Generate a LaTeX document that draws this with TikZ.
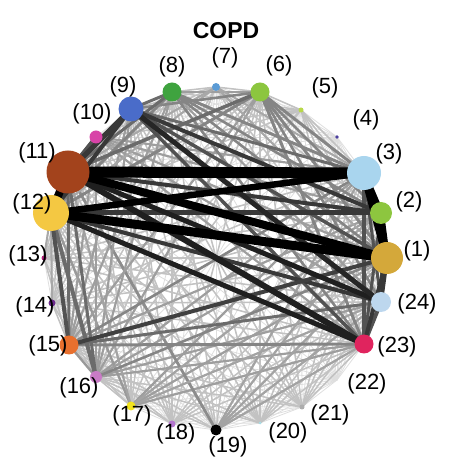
\documentclass[tikz,border=0pt]{standalone}
\usepackage{fontspec}
\setmainfont{Liberation Sans}
\pgfdeclarelayer{bg}
\pgfsetlayers{bg,main}
\definecolor{c1}{HTML}{D4A83A}
\definecolor{c2}{HTML}{8DC63F}
\definecolor{c3}{HTML}{A9D5EE}
\definecolor{c4}{HTML}{4B3F9E}
\definecolor{c5}{HTML}{B8D84A}
\definecolor{c6}{HTML}{8CC63F}
\definecolor{c7}{HTML}{5B9BD5}
\definecolor{c8}{HTML}{3FA33F}
\definecolor{c9}{HTML}{4A6CC9}
\definecolor{c10}{HTML}{D843A8}
\definecolor{c11}{HTML}{A3431C}
\definecolor{c12}{HTML}{F4C842}
\definecolor{c13}{HTML}{B0237A}
\definecolor{c14}{HTML}{6B2A8C}
\definecolor{c15}{HTML}{E8702E}
\definecolor{c16}{HTML}{C97BC6}
\definecolor{c17}{HTML}{F2E41E}
\definecolor{c18}{HTML}{B476CF}
\definecolor{c19}{HTML}{000000}
\definecolor{c20}{HTML}{A8DCE6}
\definecolor{c21}{HTML}{ADADAD}
\definecolor{c22}{HTML}{DDDDDD}
\definecolor{c23}{HTML}{E0245E}
\definecolor{c24}{HTML}{BDD7EE}
\begin{document}
\begin{tikzpicture}[x=1pt,y=1pt,
  vert/.style={circle,inner sep=0pt,draw=none},
  lab/.style={font=\fontsize{22}{24}\selectfont,inner sep=0pt},
  ttl/.style={font=\fontsize{23}{25}\selectfont\bfseries,inner sep=0pt},
  faint/.style={line width=0.8pt,color=black!13},
  light/.style={line width=1.5pt,color=black!24}]
\useasboundingbox (0,0) rectangle (474,474);
% nodes
\foreach \i/\x/\y/\r in {1/387/216/16,2/381/261/11,3/364/301/17,4/337/337/1.8,
  5/301/364/2.5,6/260/382/9.5,7/216/387/4,8/172/382/9.5,9/131/365/12.5,
  10/96/337/6.5,11/68/302/21.5,12/51/261/18,13/44/216/2.5,14/52/171/3.5,
  15/69/129/9.5,16/96/97/6,17/131/68/4.5,18/172/50/3.5,19/216/44/5.5,
  20/260/51/1.5,21/302/67/2.5,22/337/94/0.5,23/364/130/9.5,24/381/172/10}
  \node[vert,fill=c\i,minimum size=2*\r pt] (n\i) at (\x,\y) {};
% edges
\begin{pgfonlayer}{bg}
\foreach \i in {1,...,23}{
  \pgfmathtruncatemacro\k{\i+1}
  \foreach \j in {\k,...,24}{\draw[faint] (n\i.center) -- (n\j.center);}}
\foreach \i in {5,7,13,14,17,18,19,20,21}{
  \foreach \j in {1,2,3,6,8,9,10,11,12,15,16,23,24}{
    \draw[light] (n\i.center) -- (n\j.center);}}
\foreach \a/\b/\c/\w in {
  16/24/38/2.2,16/3/38/2.2,16/23/38/2.2,17/12/40/2.4,17/3/38/2.2,17/1/38/2.2,
  17/23/38/2.2,19/11/45/2.8,19/3/36/2.2,19/1/36/2.2,19/23/36/2.2,19/24/36/2.2,
  19/2/36/2.2,15/2/38/2.2,16/2/38/2.2,8/24/38/2.2,6/15/38/2.2,6/16/38/2.2,
  8/15/38/2.2,8/16/38/2.2,9/15/38/2.2,9/16/38/2.2,10/3/38/2.2,10/1/38/2.2,
  10/23/38/2.2,10/2/38/2.2,10/24/38/2.2,8/6/38/2.2,7/11/34/2,7/12/34/2,
  7/3/34/2,7/1/34/2,17/24/36/2.2,17/2/36/2.2,16/15/40/2.4,17/11/36/2.2,
  10/15/38/2.2,10/16/38/2.2,12/13/34/2,12/14/34/2,
  8/3/48/3,8/1/48/2.6,8/2/48/2.6,6/3/48/3,6/1/48/3,6/23/48/3,6/12/48/3,
  8/12/48/3,15/23/48/3,15/3/48/2.6,16/1/48/2.6,6/9/48/2.6,8/23/48/2.6,
  6/2/48/2.6,6/24/48/2.6,
  12/16/58/4,11/15/58/3,9/3/58/3,8/11/58/3,8/9/58/3,6/11/58/3.5,15/24/58/3,
  11/16/58/3,10/12/58/3,
  3/23/68/4,10/11/68/4,12/15/68/4,9/1/68/3.5,9/23/68/3.5,3/24/68/3,
  24/23/68/4,2/23/68/3,2/24/68/3,
  12/24/78/4,9/11/78/5,9/12/78/4,12/2/78/5,11/2/78/4,1/23/78/4,1/24/78/4,
  9/2/78/4,15/1/75/4,
  11/23/88/6,12/23/88/5,11/24/88/5,9/24/85/5,
  11/3/100/11,11/1/100/8,12/1/100/9,12/3/100/6.5,11/12/100/8,3/1/100/8,
  3/2/100/6,2/1/100/6}
  \draw[line width=\w pt,color=black!\c] (n\a.center) -- (n\b.center);
\end{pgfonlayer}
% labels
\foreach \i/\x/\y in {1/417/223,2/409/272,3/389/320,4/366/354,5/325/386,
  6/279/408,7/225/416,8/172/407,9/123/387,10/92/360,11/37/321,12/32/270,
  13/28/218,14/35/167,15/48/128,16/79/86,17/132/58,18/176/40,19/228/27,
  20/288/41,21/330/59,22/367/90,23/397/127,24/417/170}
  \node[lab] (l\i) at (\x,\y) {(\i)};
\node[ttl] (title) at (226,443) {COPD};
\end{tikzpicture}
\end{document}
